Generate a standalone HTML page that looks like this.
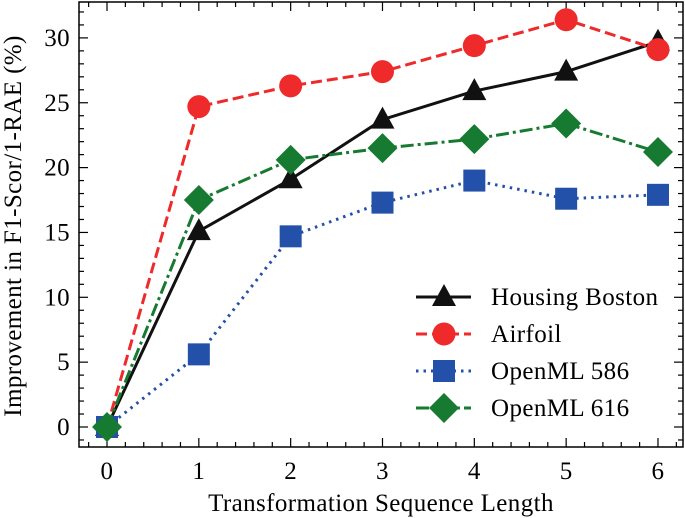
<!DOCTYPE html>
<html><head><meta charset="utf-8"><style>
html,body{margin:0;padding:0;background:#fff;}
svg{display:block;font-family:"Liberation Serif",serif;}
text{letter-spacing:0.4px;}
</style></head><body>
<svg id="chart" width="685" height="518" viewBox="0 0 685 518"></svg>
<script>
const categories=[0,1,2,3,4,5,6];
const housingBoston=[0,15.1,19.1,23.7,25.9,27.4,29.7];
const airfoil=[0,24.7,26.3,27.4,29.4,31.4,29.1];
const openml586=[0,5.6,14.7,17.3,19.0,17.6,17.9];
const openml616=[0,17.5,20.6,21.5,22.2,23.4,21.2];
const xTicks=[0,1,2,3,4,5,6];
const yTicks=[0,5,10,15,20,25,30];
const seriesNames=["Housing Boston","Airfoil","OpenML 586","OpenML 616"];

const L=79,R=683,T=2,B=447;
const x=v=>107+v*91.83;
const y=v=>427-v*12.97;
const NS="http://www.w3.org/2000/svg";
const svg=document.getElementById('chart');
function mk(tag,attrs,parent){const e=document.createElementNS(NS,tag);for(const k in attrs)e.setAttribute(k,attrs[k]);(parent||svg).appendChild(e);return e;}

const axes=mk('g',{});


const frame=mk('rect',{x:L,y:T,width:R-L,height:B-T,fill:'none',stroke:'#000','stroke-width':1.5},axes);


for(let v=-0.2;v<=6.25;v+=0.2){const px=x(v);if(px<L||px>R)continue;const major=Math.abs(v-Math.round(v))<1e-6;const len=major?9:5;
mk('line',{x1:px,x2:px,y1:B,y2:B-len,stroke:'#000','stroke-width':1.2},axes);mk('line',{x1:px,x2:px,y1:T,y2:T+len,stroke:'#000','stroke-width':1.2},axes);}
xTicks.forEach(v=>{const t=mk('text',{x:x(v),y:479,'text-anchor':'middle','font-size':25},axes);t.textContent=v;

});
for(let v=-1;v<=32;v+=1){const py=y(v);if(py<T||py>B)continue;const len=v%5===0?9:5;
mk('line',{x1:L,x2:L+len,y1:py,y2:py,stroke:'#000','stroke-width':1.2},axes);mk('line',{x1:R,x2:R-len,y1:py,y2:py,stroke:'#000','stroke-width':1.2},axes);}
yTicks.forEach(v=>{const t=mk('text',{x:70,y:y(v)+8,'text-anchor':'end','font-size':25},axes);t.textContent=v;

});
const xt=mk('text',{x:381,y:511,'text-anchor':'middle','font-size':25});xt.textContent='Transformation Sequence Length';


const yt=mk('text',{x:0,y:0,'text-anchor':'middle','font-size':25,transform:'translate(21,226) rotate(-90)'});yt.textContent='Improvement in F1-Scor/1-RAE (%)';



function marker(g,type,cx,cy,color){
 if(type==='tri')return mk('polygon',{points:`${cx},${cy-13} ${cx-12},${cy+9} ${cx+12},${cy+9}`,fill:color},g);
 if(type==='circ')return mk('circle',{cx,cy,r:11.5,fill:color},g);
 if(type==='sq')return mk('rect',{x:cx-11,y:cy-11,width:22,height:22,fill:color},g);
 return mk('polygon',{points:`${cx},${cy-15} ${cx+15},${cy} ${cx},${cy+15} ${cx-15},${cy}`,fill:color},g);
}
const series=[
 {name:seriesNames[0],data:housingBoston,color:'#111',dash:'',type:'tri',id:'housing-boston'},
 {name:seriesNames[1],data:airfoil,color:'#ee2a2a',dash:'11,5',type:'circ',id:'airfoil'},
 {name:seriesNames[2],data:openml586,color:'#2350a8',dash:'2.5,5',type:'sq',id:'openml-586'},
 {name:seriesNames[3],data:openml616,color:'#167a30',dash:'13,4,3,4',type:'dia',id:'openml-616'}];
series.forEach(s=>{
 const g=mk('g',{});
 
 
 const p=mk('polyline',{points:s.data.map((v,i)=>x(categories[i])+','+y(v)).join(' '),fill:'none',stroke:s.color,'stroke-width':3,'stroke-dasharray':s.dash},g);
 
 
 s.data.forEach((v,i)=>{const m=marker(g,s.type,x(categories[i]),y(v),s.color);
  
  });
});
const leg=mk('g',{});


series.forEach((s,i)=>{
 const cy=297+i*37;
 const e=mk('g',{},leg);
 
 
 mk('line',{x1:416,x2:471,y1:cy,y2:cy,stroke:s.color,'stroke-width':3,'stroke-dasharray':s.dash},e);
 marker(e,s.type,444,cy,s.color);
 const t=mk('text',{x:491,y:cy+8,'font-size':25},e);t.textContent=s.name;
});
</script>
</body></html>
